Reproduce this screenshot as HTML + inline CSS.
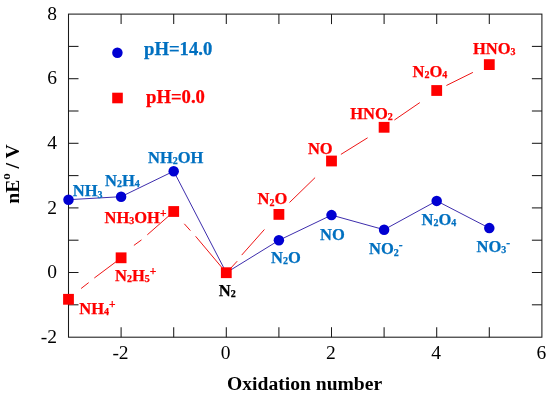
<!DOCTYPE html>
<html><head><meta charset="utf-8"><title>Frost diagram nitrogen</title>
<style>
html,body{margin:0;padding:0;background:#fff;}
body{width:550px;height:397px;overflow:hidden;}
svg{display:block;}
text{font-family:"Liberation Serif","Times New Roman",serif;}
.tk{font-size:19.5px;fill:#000;}
.lb{font-size:16.5px;font-weight:bold;stroke-width:0.25px;}
.b{stroke:#0070C0;}.r{stroke:#FF0000;}.k{stroke:#000;}
.b{fill:#0070C0;}
.r{fill:#FF0000;}
.k{fill:#000;}
.ax{font-size:19.6px;font-weight:bold;fill:#000;}
.lg{font-size:18.7px;font-weight:bold;stroke-width:0.25px;}
.s{font-size:10px;}
.p{font-size:11.5px;}
</style></head><body>
<svg width="550" height="397" viewBox="0 0 550 397">
<rect width="550" height="397" fill="#fff"/>

<polyline points="68.5,199.7 121.1,196.7 173.7,171.2 226.3,272.7 278.9,240.3 331.5,215.1 384.1,229.7 436.7,200.9 489.3,228.1" fill="none" stroke="#3322a8" stroke-width="0.95"/>
<line x1="81.1" y1="288.5" x2="88.7" y2="282.6" stroke="#ee1515" stroke-width="1.0"/>
<line x1="94.3" y1="278.0" x2="121.2" y2="257.9" stroke="#ee1515" stroke-width="1.0"/>
<line x1="133.9" y1="245.4" x2="141.5" y2="239.9" stroke="#ee1515" stroke-width="1.0"/>
<line x1="147.3" y1="234.8" x2="173.8" y2="211.5" stroke="#ee1515" stroke-width="1.0"/>
<line x1="184.3" y1="223.8" x2="190.4" y2="230.6" stroke="#ee1515" stroke-width="1.0"/>
<line x1="195.6" y1="236.3" x2="226.4" y2="272.9" stroke="#ee1515" stroke-width="1.0"/>
<line x1="226.4" y1="272.9" x2="237.2" y2="261.2" stroke="#ee1515" stroke-width="1.0"/>
<line x1="241.7" y1="255.1" x2="264.4" y2="229.5" stroke="#ee1515" stroke-width="1.0"/>
<line x1="289.5" y1="202.5" x2="315.1" y2="177.6" stroke="#ee1515" stroke-width="1.0"/>
<line x1="340.9" y1="154.4" x2="367.6" y2="137.8" stroke="#ee1515" stroke-width="1.0"/>
<line x1="394.4" y1="120.0" x2="419.8" y2="102.6" stroke="#ee1515" stroke-width="1.0"/>
<line x1="446.4" y1="85.5" x2="472.9" y2="72.4" stroke="#ee1515" stroke-width="1.0"/>
<g stroke="#1a1a1a" stroke-width="1.05" fill="none">
<rect x="68.5" y="14.1" width="473.4" height="323.1"/>
<line x1="121.1" y1="337.2" x2="121.1" y2="327.2"/>
<line x1="121.1" y1="14.1" x2="121.1" y2="24.1"/>
<line x1="173.7" y1="337.2" x2="173.7" y2="327.2"/>
<line x1="173.7" y1="14.1" x2="173.7" y2="24.1"/>
<line x1="226.3" y1="337.2" x2="226.3" y2="327.2"/>
<line x1="226.3" y1="14.1" x2="226.3" y2="24.1"/>
<line x1="278.9" y1="337.2" x2="278.9" y2="327.2"/>
<line x1="278.9" y1="14.1" x2="278.9" y2="24.1"/>
<line x1="331.5" y1="337.2" x2="331.5" y2="327.2"/>
<line x1="331.5" y1="14.1" x2="331.5" y2="24.1"/>
<line x1="384.1" y1="337.2" x2="384.1" y2="327.2"/>
<line x1="384.1" y1="14.1" x2="384.1" y2="24.1"/>
<line x1="436.7" y1="337.2" x2="436.7" y2="327.2"/>
<line x1="436.7" y1="14.1" x2="436.7" y2="24.1"/>
<line x1="489.3" y1="337.2" x2="489.3" y2="327.2"/>
<line x1="489.3" y1="14.1" x2="489.3" y2="24.1"/>
<line x1="68.5" y1="304.8" x2="78.5" y2="304.8"/>
<line x1="541.9" y1="304.8" x2="531.9" y2="304.8"/>
<line x1="68.5" y1="272.5" x2="78.5" y2="272.5"/>
<line x1="541.9" y1="272.5" x2="531.9" y2="272.5"/>
<line x1="68.5" y1="240.2" x2="78.5" y2="240.2"/>
<line x1="541.9" y1="240.2" x2="531.9" y2="240.2"/>
<line x1="68.5" y1="207.9" x2="78.5" y2="207.9"/>
<line x1="541.9" y1="207.9" x2="531.9" y2="207.9"/>
<line x1="68.5" y1="175.6" x2="78.5" y2="175.6"/>
<line x1="541.9" y1="175.6" x2="531.9" y2="175.6"/>
<line x1="68.5" y1="143.3" x2="78.5" y2="143.3"/>
<line x1="541.9" y1="143.3" x2="531.9" y2="143.3"/>
<line x1="68.5" y1="111.0" x2="78.5" y2="111.0"/>
<line x1="541.9" y1="111.0" x2="531.9" y2="111.0"/>
<line x1="68.5" y1="78.7" x2="78.5" y2="78.7"/>
<line x1="541.9" y1="78.7" x2="531.9" y2="78.7"/>
<line x1="68.5" y1="46.4" x2="78.5" y2="46.4"/>
<line x1="541.9" y1="46.4" x2="531.9" y2="46.4"/>
</g>
<rect x="63.1" y="293.9" width="10.8" height="10.8" fill="#FF0000"/>
<rect x="115.7" y="252.4" width="10.8" height="10.8" fill="#FF0000"/>
<rect x="168.3" y="206.1" width="10.8" height="10.8" fill="#FF0000"/>
<rect x="220.9" y="267.3" width="10.8" height="10.8" fill="#FF0000"/>
<rect x="273.5" y="209.0" width="10.8" height="10.8" fill="#FF0000"/>
<rect x="326.1" y="155.6" width="10.8" height="10.8" fill="#FF0000"/>
<rect x="378.7" y="121.9" width="10.8" height="10.8" fill="#FF0000"/>
<rect x="431.3" y="85.1" width="10.8" height="10.8" fill="#FF0000"/>
<rect x="483.9" y="59.2" width="10.8" height="10.8" fill="#FF0000"/>
<circle cx="68.5" cy="199.7" r="5.25" fill="#0000D2"/>
<circle cx="121.1" cy="196.7" r="5.25" fill="#0000D2"/>
<circle cx="173.7" cy="171.2" r="5.25" fill="#0000D2"/>
<circle cx="278.9" cy="240.3" r="5.25" fill="#0000D2"/>
<circle cx="331.5" cy="215.1" r="5.25" fill="#0000D2"/>
<circle cx="384.1" cy="229.7" r="5.25" fill="#0000D2"/>
<circle cx="436.7" cy="200.9" r="5.25" fill="#0000D2"/>
<circle cx="489.3" cy="228.1" r="5.25" fill="#0000D2"/>
<circle cx="117.4" cy="52.8" r="5.25" fill="#0000D2"/>
<rect x="112.2" y="92.7" width="10.6" height="10.6" fill="#FF0000"/>
<text class="lg b" x="144" y="55">pH=14.0</text>
<text class="lg r" x="146" y="103.2">pH=0.0</text>
<text class="tk" x="57" y="342.8" text-anchor="end">-2</text>
<text class="tk" x="57" y="278.2" text-anchor="end">0</text>
<text class="tk" x="57" y="213.6" text-anchor="end">2</text>
<text class="tk" x="57" y="149.0" text-anchor="end">4</text>
<text class="tk" x="57" y="84.4" text-anchor="end">6</text>
<text class="tk" x="57" y="19.8" text-anchor="end">8</text>
<text class="tk" x="120.5" y="358.5" text-anchor="middle">-2</text>
<text class="tk" x="225.7" y="358.5" text-anchor="middle">0</text>
<text class="tk" x="330.9" y="358.5" text-anchor="middle">2</text>
<text class="tk" x="436.1" y="358.5" text-anchor="middle">4</text>
<text class="tk" x="541.3" y="358.5" text-anchor="middle">6</text>
<text class="ax" x="304.6" y="389.6" text-anchor="middle">Oxidation number</text>
<text class="ax" transform="translate(19.2,174) rotate(-90)" text-anchor="middle">nE<tspan dy="-9" style="font-size:13px">o</tspan><tspan dy="9"> / V</tspan></text>
<text class="lb b" x="72.8" y="196.4"><tspan dy="0">NH</tspan><tspan class="s" dy="1.3">3</tspan></text>
<text class="lb b" x="105" y="186"><tspan dy="0">N</tspan><tspan class="s" dy="1.3">2</tspan><tspan dy="-1.3">H</tspan><tspan class="s" dy="1.3">4</tspan></text>
<text class="lb b" x="148" y="162.6"><tspan dy="0">NH</tspan><tspan class="s" dy="1.3">2</tspan><tspan dy="-1.3">OH</tspan></text>
<text class="lb b" x="271.0" y="262.5"><tspan dy="0">N</tspan><tspan class="s" dy="1.3">2</tspan><tspan dy="-1.3">O</tspan></text>
<text class="lb b" x="320.0" y="239.6"><tspan dy="0">NO</tspan></text>
<text class="lb b" x="369.1" y="254.3"><tspan dy="0">NO</tspan><tspan class="s" dy="1.3">2</tspan><tspan class="p" dy="-6.3">-</tspan></text>
<text class="lb b" x="421.5" y="224.8"><tspan dy="0">N</tspan><tspan class="s" dy="1.3">2</tspan><tspan dy="-1.3">O</tspan><tspan class="s" dy="1.3">4</tspan></text>
<text class="lb b" x="476.5" y="251.7"><tspan dy="0">NO</tspan><tspan class="s" dy="1.3">3</tspan><tspan class="p" dy="-6.3">-</tspan></text>
<text class="lb r" x="79.3" y="313.8"><tspan dy="0">NH</tspan><tspan class="s" dy="1.3">4</tspan><tspan class="p" dy="-6.8999999999999995">+</tspan></text>
<text class="lb r" x="115" y="281"><tspan dy="0">N</tspan><tspan class="s" dy="1.3">2</tspan><tspan dy="-1.3">H</tspan><tspan class="s" dy="1.3">5</tspan><tspan class="p" dy="-6.8999999999999995">+</tspan></text>
<text class="lb r" x="104.5" y="222.5"><tspan dy="0">NH</tspan><tspan class="s" dy="1.3">3</tspan><tspan dy="-1.3">OH</tspan><tspan class="p" dy="-5.6">+</tspan></text>
<text class="lb r" x="257.5" y="204.4"><tspan dy="0">N</tspan><tspan class="s" dy="1.3">2</tspan><tspan dy="-1.3">O</tspan></text>
<text class="lb r" x="307.9" y="154.2"><tspan dy="0">NO</tspan></text>
<text class="lb r" x="350.2" y="118.6"><tspan dy="0">HNO</tspan><tspan class="s" dy="1.3">2</tspan></text>
<text class="lb r" x="412.6" y="77.1"><tspan dy="0">N</tspan><tspan class="s" dy="1.3">2</tspan><tspan dy="-1.3">O</tspan><tspan class="s" dy="1.3">4</tspan></text>
<text class="lb r" x="473.0" y="54.0"><tspan dy="0">HNO</tspan><tspan class="s" dy="1.3">3</tspan></text>
<text class="lb k" x="218.8" y="295.5"><tspan dy="0">N</tspan><tspan class="s" dy="1.3">2</tspan></text>
</svg></body></html>
